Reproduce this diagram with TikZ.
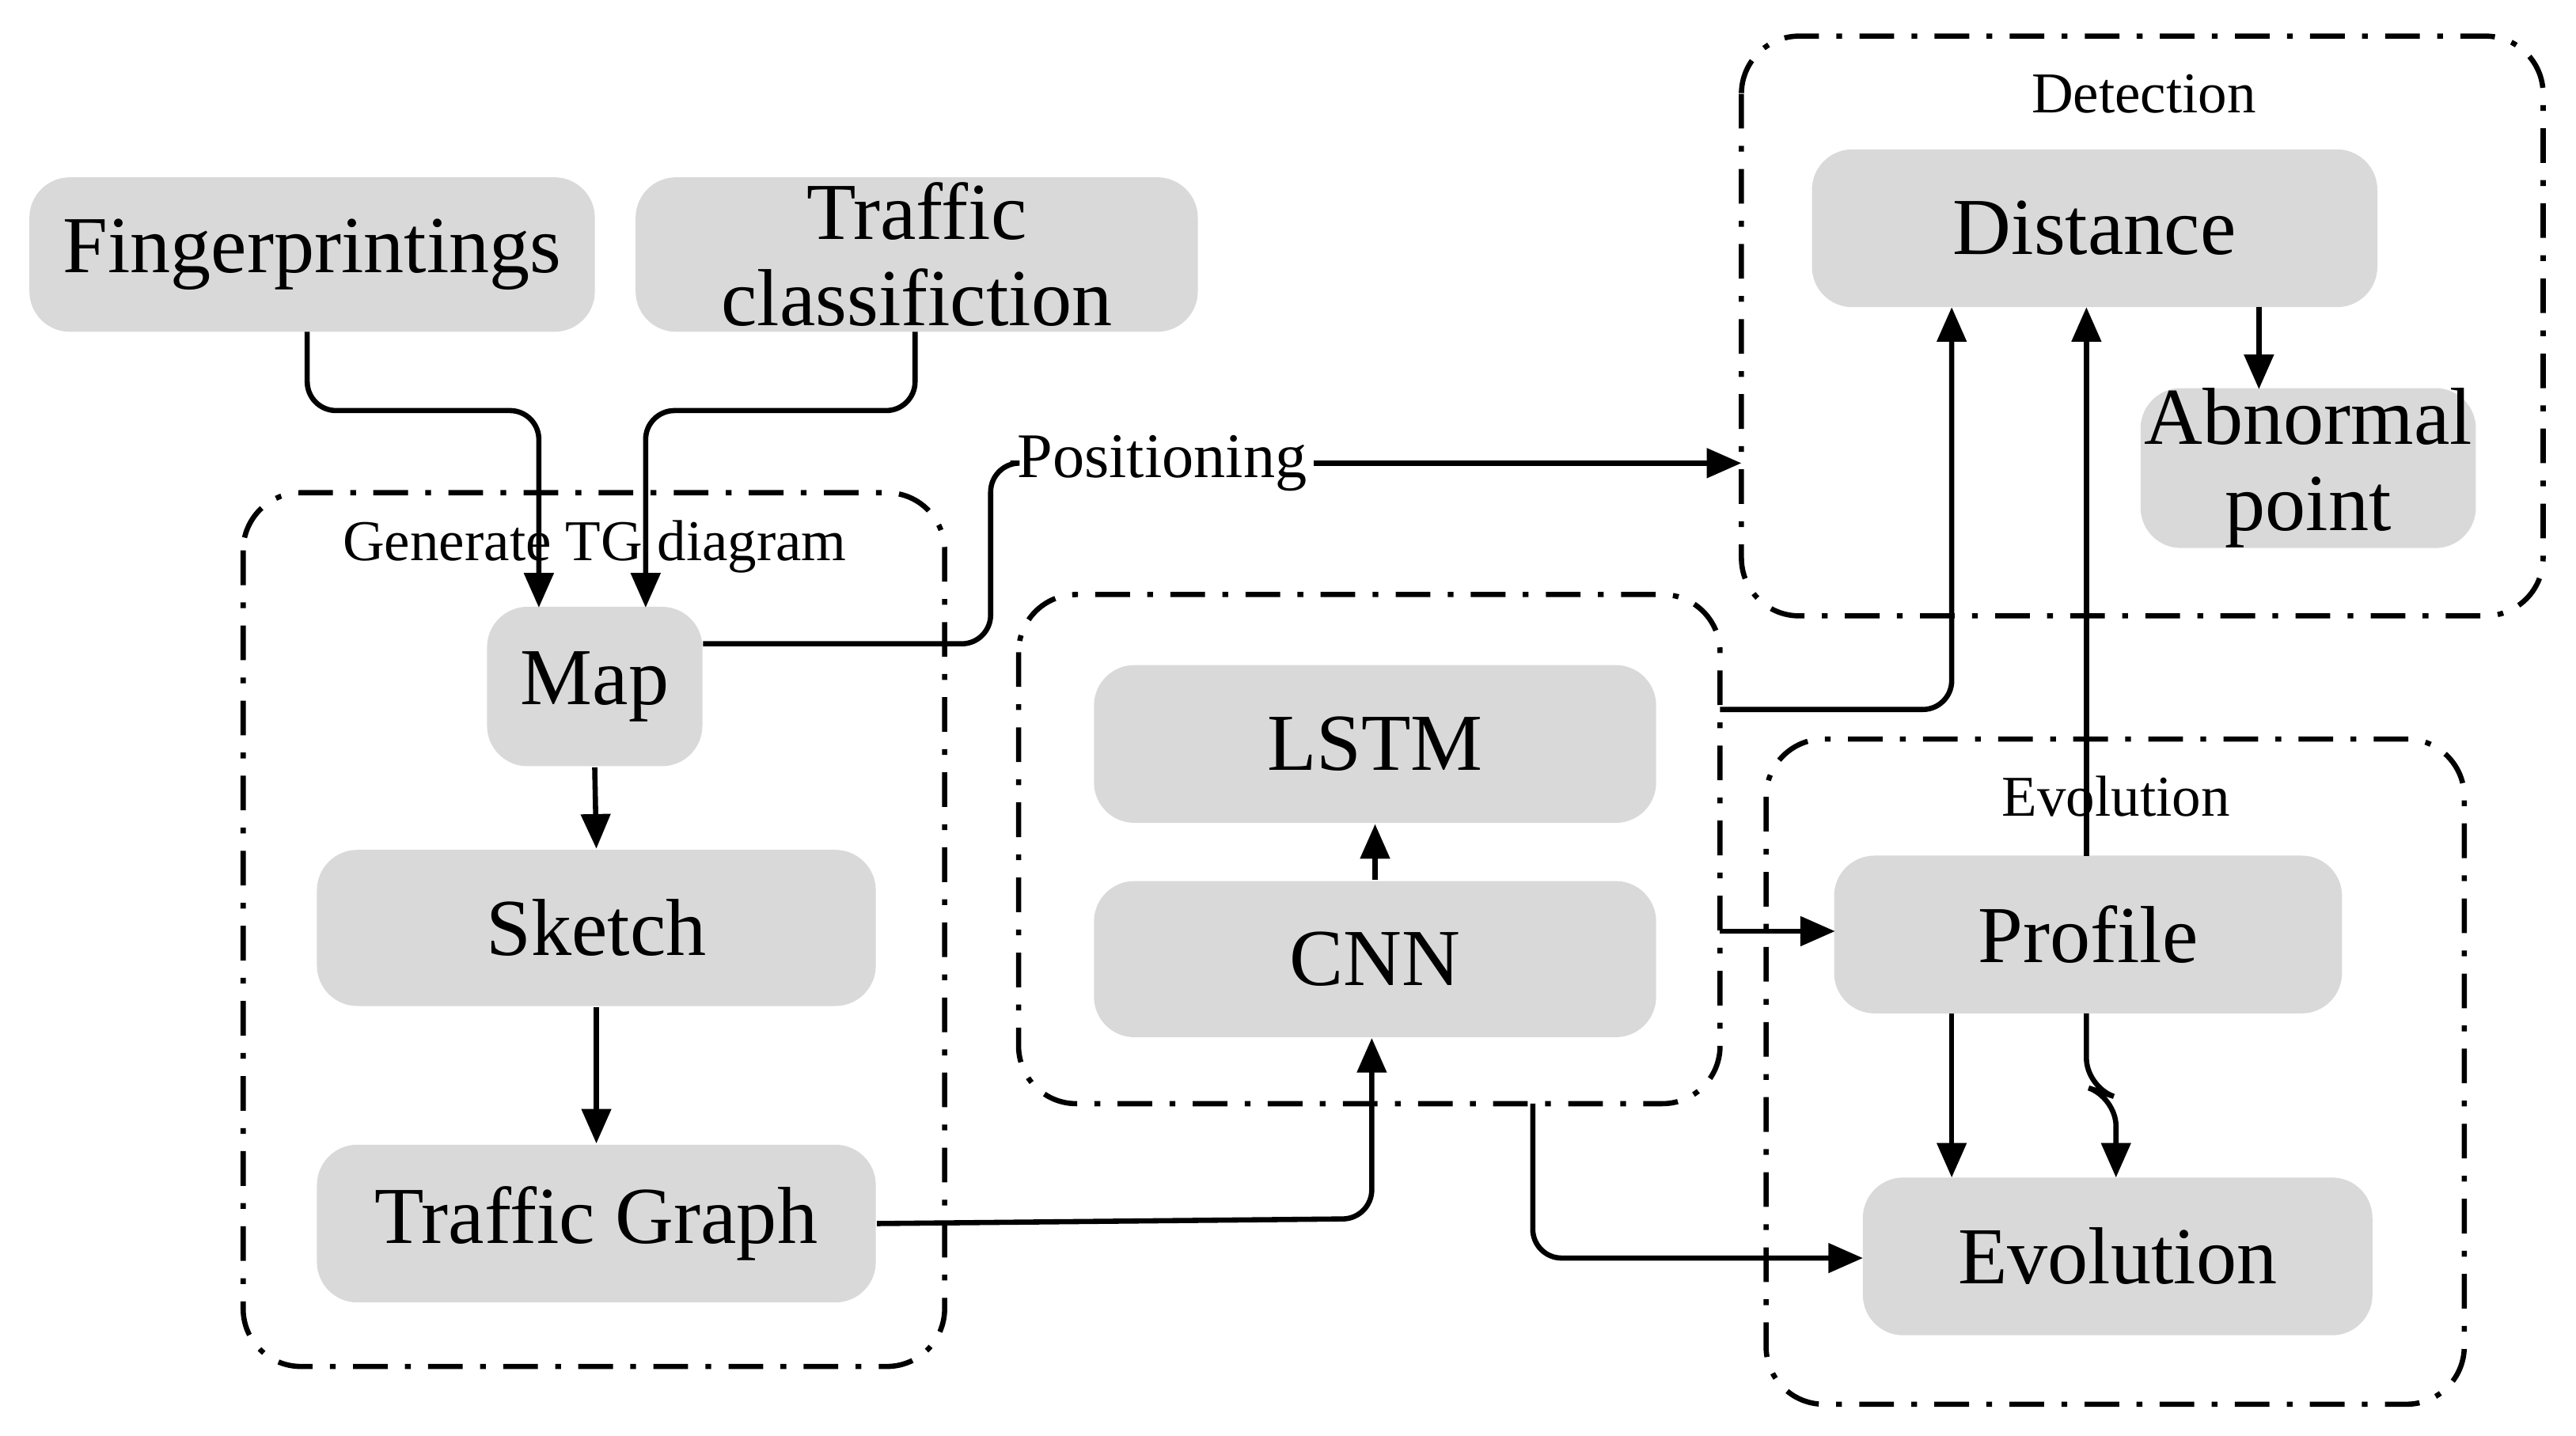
\documentclass[tikz,border=0pt]{standalone}
\usepackage{fontspec}
\setmainfont{Liberation Serif}
\usetikzlibrary{arrows.meta}
\begin{document}
\begin{tikzpicture}[x=0.01cm,y=-0.01cm,
  box/.style={fill=gray!30,rounded corners=7pt,inner sep=0pt,font=\fontsize{14}{15}\selectfont,align=center},
  grp/.style={draw,line width=0.9pt,dash pattern=on 6pt off 3pt on 1pt off 3pt,rounded corners=10pt},
  arr/.style={line width=0.9pt,-{Triangle[length=6pt,width=5pt]},rounded corners=5pt},
  lab/.style={font=\fontsize{10}{11}\selectfont,inner sep=1pt}]
\useasboundingbox (0,0) rectangle (1568,874);
% groups
\draw[grp] (148,300) rectangle (575,832);
\draw[grp] (620,362) rectangle (1047,672);
\draw[grp] (1060,22) rectangle (1548,375);
\draw[grp] (1075,450) rectangle (1500,855);
\node[lab] (lg) at (362,333) {Generate TG diagram};
\node[lab] (ld) at (1305,57) {Detection};
\node[lab] (le) at (1288,485) {Evolution};
\coordinate (g2r1) at (1047,432);
\coordinate (g2r2) at (1047,567);
\coordinate (g2b) at (933,672);
\coordinate (g3l) at (1060,282);
% boxes
\node[box,minimum width=344\pgflinewidth] (fp) at (190,155) [minimum width=3.44cm,minimum height=0.94cm] {Fingerprintings};
\node[box,minimum width=3.42cm,minimum height=0.94cm] (tc) at (558,155) {Traffic\\classifiction};
\node[box,minimum width=1.31cm,minimum height=0.97cm] (map) at (362,418) {Map};
\node[box,minimum width=3.40cm,minimum height=0.95cm] (sk) at (363,565) {Sketch};
\node[box,minimum width=3.40cm,minimum height=0.96cm] (tg) at (363,745) {Traffic Graph};
\node[box,minimum width=3.42cm,minimum height=0.96cm] (lstm) at (837,453) {LSTM};
\node[box,minimum width=3.42cm,minimum height=0.95cm] (cnn) at (837,584) {CNN};
\node[box,minimum width=3.44cm,minimum height=0.96cm] (dist) at (1275,139) {Distance};
\node[box,minimum width=2.04cm,minimum height=0.96cm] (ab) at (1405,285) {Abnormal\\point};
\node[box,minimum width=3.09cm,minimum height=0.96cm] (pr) at (1271,569) {Profile};
\node[box,minimum width=3.10cm,minimum height=0.96cm] (ev) at (1289,765) {Evolution};
% arrows
\draw[arr] (187,202) -- (187,250) -- (328,250) -- (328,370);
\draw[arr] (557,202) -- (557,250) -- (393,250) -- (393,370);
\draw[line width=0.9pt,rounded corners=5pt] (428,392) -- (603,392) -- (603,282) -- (615,282);
\node[lab,anchor=west,font=\fontsize{11}{12}\selectfont] (pos) at (615,282) {Positioning};
\draw[arr] (pos.east) -- (g3l);
\draw[arr] (map.south) -- (sk.north);
\draw[arr] (sk.south) -- (tg.north);
\draw[arr] (tg.east) -- (835,742) -- (835,632);
\draw[arr] (cnn.north) -- (lstm.south);
\draw[arr] (g2r1) -- (1188,432) -- (1188,187);
\draw[arr] (g2r2) -- (1117,567);
\draw[arr] (g2b) -- (933,766) -- (1134,766);
\draw[arr] (1270,521) -- (1270,187);
\draw[arr] (1375,187) -- (1375,237);
\draw[arr] (1188,617) -- (1188,717);
\draw[arr] (1270,617) -- (1270,662) -- (1288,668) -- (1288,717);
\end{tikzpicture}
\end{document}
